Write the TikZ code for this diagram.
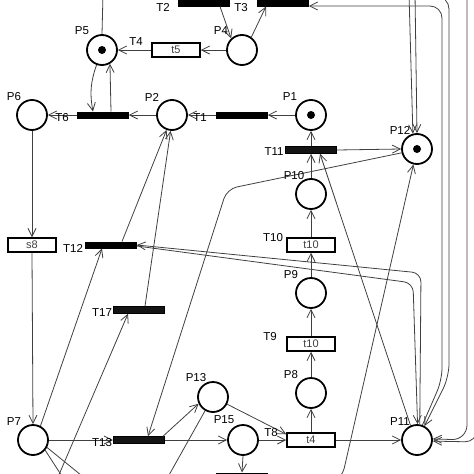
\documentclass[tikz,border=0pt]{standalone}
\usepackage{fontspec}
\setmainfont{Liberation Sans}
\usetikzlibrary{arrows.meta}
\begin{document}
\begin{tikzpicture}[x=1pt,y=-1pt,
 place/.style={circle,draw=black,line width=1.8pt,minimum size=30pt,inner sep=0pt},
 bar/.style={rectangle,fill=black,draw=black,line width=0.5pt,minimum width=51pt,minimum height=6.5pt,inner sep=0pt},
 hbar/.style={bar,fill=black!92,line width=1pt},
 tbox/.style={rectangle,draw=black,line width=1.5pt,fill=white,minimum width=48pt,minimum height=14pt,inner sep=0pt,font=\fontsize{11}{11}\selectfont,text=black!75},
 lab/.style={inner sep=0pt,font=\fontsize{11.5}{12}\selectfont},
 arc/.style={draw=black!75,line width=0.8pt,-{Straight Barb[length=8pt,width=8pt]}},
 plain/.style={draw=black!75,line width=0.8pt}
]
\useasboundingbox (0,0) rectangle (474,474);
% places
\node[place] (P5) at (102,50) {};
\node[place] (P4) at (242,50) {};
\node[place] (P6) at (32,115) {};
\node[place] (P2) at (172,115) {};
\node[place] (P1) at (311,115) {};
\node[place] (P12) at (417,149) {};
\node[place] (P10) at (311,194) {};
\node[place] (P9) at (311,293) {};
\node[place] (P8) at (311,393) {};
\node[place] (P11) at (417,440) {};
\node[place] (P7) at (33,440) {};
\node[place] (P13) at (213,397) {};
\node[place] (P15) at (243,440) {};
\fill (P5) circle[radius=4pt];
\fill (P1) circle[radius=4pt];
\fill (P12) circle[radius=4pt];
% bar transitions
\node[bar] (T2) at (204,3) {};
\node[bar] (T3) at (283,3) {};
\node[bar] (T6) at (103,115) {};
\node[bar] (T1) at (242,115) {};
\node[hbar] (T11) at (311,150) {};
\node[bar] (T12) at (111,245) {};
\node[hbar] (T17) at (139,310) {};
\node[hbar] (T13) at (139,440) {};
\node[bar] (Tb) at (242,476) {};
% timed transitions
\node[tbox] (T4) at (176,50) {t5};
\node[tbox] (S8) at (32,245) {s8};
\node[tbox] (T10) at (311,245) {t10};
\node[tbox] (T9) at (311,344) {t10};
\node[tbox] (T8) at (311,440) {t4};
% free ends
\coordinate (c1) at (103,-6);
\coordinate (e1) at (164,484);
\coordinate (e2) at (67,484);
\coordinate (e3) at (92,484);
\coordinate (e4) at (55,484);
\coordinate (k1) at (420,-4);
\coordinate (k2) at (467,-6);
\coordinate (k3) at (477,400);
\coordinate (k4) at (409,-6);
\coordinate (k5) at (415,-6);
\coordinate (k6) at (330,484);
% connectors
\draw[plain] (P5.north) -- (c1);
\draw[arc] ([xshift=16pt]T2.south) -- (P4.133);
\draw[arc] (P4.54) -- ([xshift=-17pt]T3.south);
\draw[arc] (P4.west) -- (T4.east);
\draw[arc] (T4.west) -- (P5.east);
\draw[arc] (P5.250) to[bend right=15] ([xshift=-10pt]T6.north);
\draw[arc] ([xshift=8pt]T6.north) -- (P5.300);
\draw[arc] (T6.west) -- (P6.east);
\draw[arc] (P2.west) -- (T6.east);
\draw[arc] (T1.west) -- (P2.east);
\draw[arc] (P1.west) -- (T1.east);
\draw[arc] (T11.north) -- (P1.south);
\draw[arc] (T11.east) -- (P12.west);
\draw[arc] (P10.north) -- (T11.south);
\draw[arc] (P11.114) -- ([xshift=9pt]T11.south);
\draw[arc] (P9.north) -- (T10.south);
\draw[arc] (T10.north) -- (P10.south);
\draw[arc] (P8.north) -- (T9.south);
\draw[arc] (T9.north) -- (P9.south);
\draw[arc] (T8.north) -- (P8.south);
\draw[arc] (T8.east) -- (P11.west);
\draw[arc] (P15.east) -- (T8.west);
\draw[arc] (P13.-27) -- ([yshift=-2pt]T8.north west);
\draw[arc] (T13.east) -- (P15.west);
\draw[arc] ([xshift=-2pt]T13.north east) -- (P13.205);
\draw[arc] (P7.east) -- (T13.west);
\draw[arc] (P15.south) -- (Tb.north);
\draw[plain] (P13.240) -- (e1);
\draw[plain] (P7.-40) -- (e2);
\draw[plain] (P7.-28) -- (e3);
\draw[arc] (e4) -- ([xshift=-11pt]T17.south);
\draw[arc] (P7.62) -- ([xshift=-9pt]T12.south);
\draw[arc] ([xshift=11pt]T12.north) -- (P2.250);
\draw[arc] ([xshift=6pt]T17.north) -- (P2.265);
\draw[arc] (S8.south) -- (P7.north);
\draw[arc] (P6.south) -- (S8.north);
% long arcs
\draw[arc,rounded corners=9pt] (P11.80) -- (421,273) -- (T12.east);
\draw[arc,rounded corners=9pt] ([yshift=-1pt]T12.east) -- (413,283) -- (P11.88);
\draw[arc,rounded corners=12pt] (P11.70) -- (442,380) -- (442,6) -- ([yshift=-3pt]T3.east);
\draw[arc,rounded corners=13pt] (k1) -- (449,-4) -- (449,377) -- (P11.62);
\draw[arc,rounded corners=15pt] (k2) -- (467,440) -- (P11.4);
\draw[arc,rounded corners=12pt] (k3) -- (477,442) -- (P11.-4);
\draw[arc] (k4) -- (P12.105);
\draw[arc] (k5) -- (P12.90);
\draw[arc,rounded corners=10pt] (P12.194) -- (227,189) -- ([xshift=9pt]T13.north);
\draw[arc,rounded corners=10pt] (k6) -- (342,478) -- (P12.257);
% labels
\node[lab] at (82,31) {P5};
\node[lab] at (136,42) {T4};
\node[lab] at (221,31) {P4};
\node[lab] at (163,7) {T2};
\node[lab] at (241,8) {T3};
\node[lab] at (14,97) {P6};
\node[lab] at (62,118) {T6};
\node[lab] at (152,97) {P2};
\node[lab] at (200,118) {T1};
\node[lab] at (290,97) {P1};
\node[lab] at (400,130) {P12};
\node[lab] at (274,152) {T11};
\node[lab] at (294,176) {P10};
\node[lab] at (273,238) {T10};
\node[lab] at (291,275) {P9};
\node[lab] at (270,337) {T9};
\node[lab] at (291,375) {P8};
\node[lab] at (400,422) {P11};
\node[lab] at (271,433) {T8};
\node[lab] at (224,420) {P15};
\node[lab] at (196,378) {P13};
\node[lab] at (14,422) {P7};
\node[lab] at (102,443) {T13};
\node[lab] at (102,313) {T17};
\node[lab] at (73,248) {T12};
\end{tikzpicture}
\end{document}
